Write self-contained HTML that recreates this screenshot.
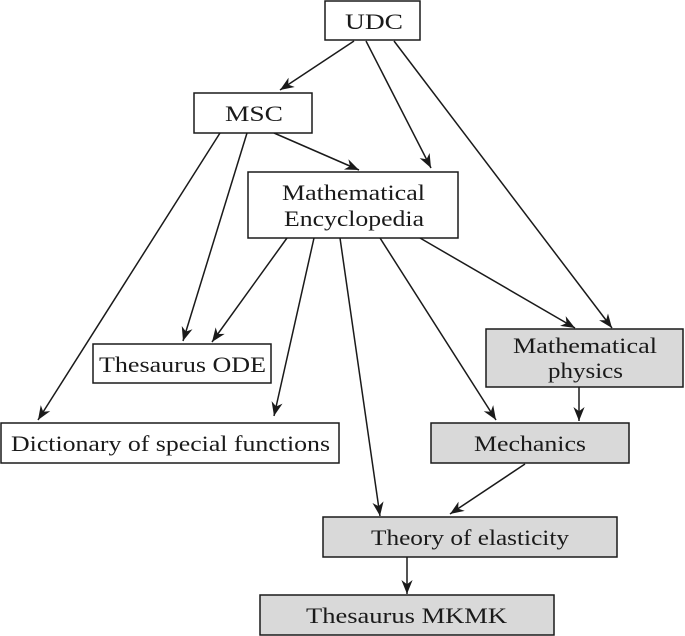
<!DOCTYPE html>
<html><head><meta charset="utf-8"><style>html,body{margin:0;padding:0;background:#fff}svg{display:block}</style></head>
<body>
<svg width="685" height="636" viewBox="0 0 685 636" xmlns="http://www.w3.org/2000/svg">
<defs><marker id="a" viewBox="0 0 10 10" refX="10" refY="5" markerWidth="10" markerHeight="10" markerUnits="userSpaceOnUse" orient="auto"><path d="M0,0 L10,5 L0,10 L3,5 z" fill="#1a1a1a"/></marker>
<marker id="b" viewBox="0 0 10 10" refX="10" refY="5" markerWidth="14" markerHeight="14" markerUnits="userSpaceOnUse" orient="auto"><path d="M0,1 L10,5 L0,9 L3,5 z" fill="#1a1a1a"/></marker></defs>
<g stroke="#1a1a1a" stroke-width="1.5" fill="none" marker-end="url(#b)">
<line x1="354" y1="41" x2="280" y2="90"/>
<line x1="366" y1="41" x2="431" y2="168"/>
<line x1="394" y1="41" x2="612" y2="328"/>
<line x1="274" y1="133" x2="359" y2="170"/>
<line x1="220" y1="133" x2="38" y2="420"/>
<line x1="247" y1="133" x2="183" y2="341"/>
<line x1="287" y1="238" x2="212" y2="342"/>
<line x1="314" y1="238" x2="274" y2="416"/>
<line x1="340" y1="238" x2="380" y2="516"/>
<line x1="380" y1="238" x2="496" y2="420"/>
<line x1="420" y1="238" x2="575" y2="328"/>
<line x1="579" y1="387" x2="579" y2="421"/>
<line x1="525" y1="464" x2="450" y2="514"/>
<line x1="407" y1="557" x2="407" y2="594"/>
</g>
<g stroke="#1a1a1a" stroke-width="1.5">
<rect x="325" y="1" width="95" height="39" fill="#fff"/>
<rect x="194" y="93" width="118" height="40" fill="#fff"/>
<rect x="248" y="172" width="210" height="66" fill="#fff"/>
<rect x="93" y="344" width="178" height="39" fill="#fff"/>
<rect x="486" y="329" width="197" height="58" fill="#d9d9d9"/>
<rect x="1" y="423" width="338" height="40" fill="#fff"/>
<rect x="431" y="423" width="198" height="40" fill="#d9d9d9"/>
<rect x="323" y="517" width="294" height="40" fill="#d9d9d9"/>
<rect x="260" y="595" width="294" height="40" fill="#d9d9d9"/>
</g>
<g font-family="Liberation Serif, serif" font-size="22" fill="#1a1a1a">
<text x="345" y="29" textLength="58" lengthAdjust="spacingAndGlyphs">UDC</text>
<text x="225" y="121" textLength="58" lengthAdjust="spacingAndGlyphs">MSC</text>
<text x="282" y="200" textLength="143" lengthAdjust="spacingAndGlyphs">Mathematical</text>
<text x="284" y="226" textLength="140" lengthAdjust="spacingAndGlyphs">Encyclopedia</text>
<text x="99" y="372" textLength="167" lengthAdjust="spacingAndGlyphs">Thesaurus ODE</text>
<text x="513" y="353" textLength="144" lengthAdjust="spacingAndGlyphs">Mathematical</text>
<text x="548" y="378" textLength="75" lengthAdjust="spacingAndGlyphs">physics</text>
<text x="11" y="451" textLength="319" lengthAdjust="spacingAndGlyphs">Dictionary of special functions</text>
<text x="474" y="451" textLength="112" lengthAdjust="spacingAndGlyphs">Mechanics</text>
<text x="371" y="545" textLength="198" lengthAdjust="spacingAndGlyphs">Theory of elasticity</text>
<text x="306" y="623" textLength="201" lengthAdjust="spacingAndGlyphs">Thesaurus MKMK</text>
</g>
</svg>
</body></html>
